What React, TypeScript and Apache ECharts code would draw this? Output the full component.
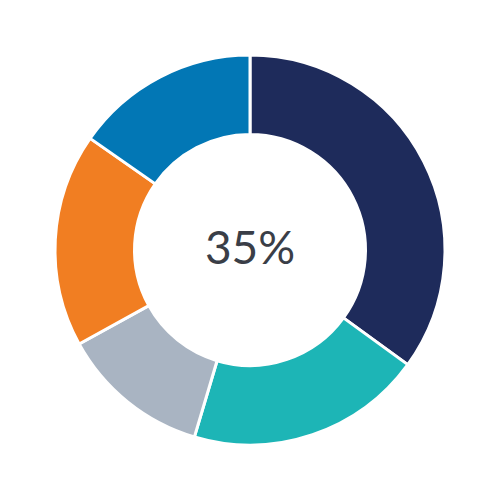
import React, { useEffect, useRef } from 'react';
import * as echarts from 'echarts';

const labels = ['A', 'B', 'C', 'D', 'E'];
const values = [35, 19.6, 12.4, 17.7, 15.3];
const colors = ['#1E2B5B', '#1DB5B6', '#A9B4C2', '#F17E22', '#0277B5'];
const centerText = '35%';

const App: React.FC = () => {
  const chartRef = useRef<HTMLDivElement>(null);

  useEffect(() => {
    if (!chartRef.current) return;
    const chart = echarts.init(chartRef.current, null, { renderer: 'svg' });

    const option: echarts.EChartsOption = {
      animation: false,
      backgroundColor: '#fff',
      color: colors,
      graphic: [
        {
          type: 'text',
          x: 250,
          y: 246,
          style: {
            text: centerText,
            fontFamily: 'Lato',
            fontWeight: 400,
            fontSize: 46,
            fill: '#3A3E47',
            align: 'center',
            verticalAlign: 'middle',
          },
        },
      ],
      series: [
        {
          type: 'pie',
          center: [250, 250],
          radius: [115.5, 195],
          startAngle: 90,
          clockwise: true,
          silent: true,
          label: { show: false },
          labelLine: { show: false },
          itemStyle: {
            borderColor: '#fff',
            borderWidth: 3,
          },
          data: labels.map((name, i) => ({ name, value: values[i] })),
        },
      ],
    };

    chart.setOption(option);
    return () => {
      chart.dispose();
    };
  }, []);

  return (
    <div
      ref={chartRef}
      style={{ position: 'fixed', left: 0, top: 0, width: 500, height: 500 }}
    />
  );
};

export default App;
